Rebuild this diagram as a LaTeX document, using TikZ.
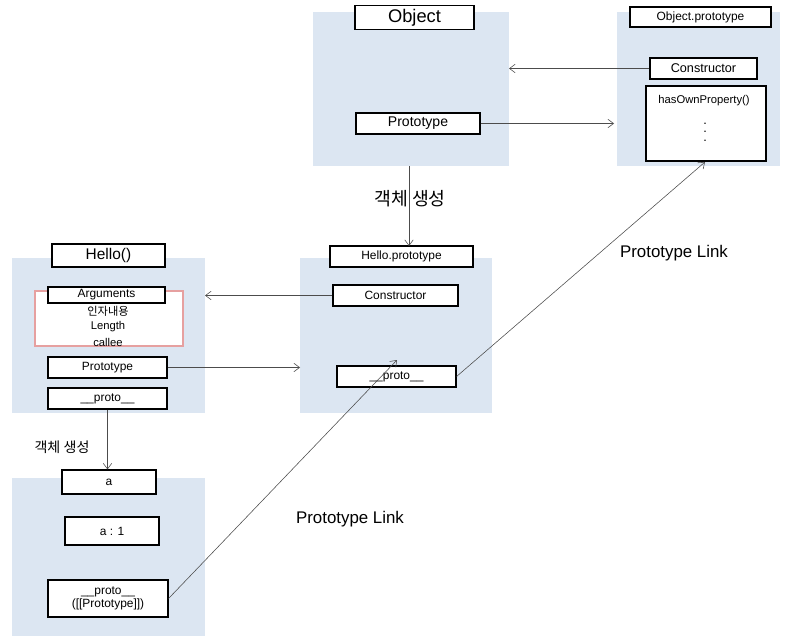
\documentclass[tikz,border=0pt]{standalone}
\usepackage{fontspec}
\setmainfont{Liberation Sans}
\newfontfamily\kr{Noto Sans CJK KR}
\usetikzlibrary{arrows.meta,positioning,calc}
\definecolor{panelblue}{HTML}{DCE6F2}
\definecolor{argred}{HTML}{E6A0A0}

\begin{document}
\begin{tikzpicture}[x=0.025cm,y=-0.025cm,
    panel/.style={fill=panelblue, draw=none},
    box/.style={draw, thick, fill=white, inner sep=0pt, font=\fontsize{8.5}{9}\selectfont},
    arrow/.style={-{Straight Barb[length=4pt,width=6pt]}, thin, black!70},
    lbl/.style={font=\fontsize{12}{13}\selectfont}
]
\useasboundingbox (0,0) rectangle (800,643);

% Panels
\fill[panel] (313,12) rectangle (509,166);
\fill[panel] (617,12) rectangle (780,166);
\fill[panel] (12,258) rectangle (205,413);
\fill[panel] (300,258) rectangle (492,413);
\fill[panel] (12,478) rectangle (205,636);

% Object
\node[box, line width=1.2pt, font=\fontsize{13}{14}\selectfont, minimum width=119*0.025cm, minimum height=24*0.025cm] (object) at (414.5,17.5) {Object};
\node[box, minimum width=124*0.025cm, minimum height=21*0.025cm, font=\fontsize{10}{11}\selectfont] (objproto) at (418,123.5) {Prototype};

% Object.prototype
\node[box, minimum width=141*0.025cm, minimum height=20*0.025cm] (optitle) at (700.5,17) {Object.prototype};
\node[box, minimum width=107*0.025cm, minimum height=21*0.025cm, font=\fontsize{9}{10}\selectfont] (opcons) at (703.5,68.5) {Constructor};
\node[box, line width=1.2pt, minimum width=120*0.025cm, minimum height=75*0.025cm] (hasown) at (706,123.5) {};
\node[font=\fontsize{8}{9}\selectfont] (hasname) at (704,101) {hasOwnProperty()};
\node[font=\fontsize{9}{9}\selectfont, align=center, inner sep=0pt] (hasdots) at (705,132) {.\\[-3pt].\\[-3pt].};

% Hello.prototype
\node[box, minimum width=143*0.025cm, minimum height=21*0.025cm] (hptitle) at (401.5,256.5) {Hello.prototype};
\node[box, minimum width=125*0.025cm, minimum height=21*0.025cm] (hpcons) at (395.5,295.5) {Constructor};
\node[box, minimum width=119*0.025cm, minimum height=21*0.025cm] (hpproto) at (396.5,376.5) {\_\_proto\_\_};

% Hello()
\draw[argred, thick, fill=white] (35,291) rectangle (183,346);
\node[box, minimum width=113*0.025cm, minimum height=23*0.025cm, font=\fontsize{11}{12}\selectfont] (hello) at (108.5,255.5) {Hello()};
\node[box, minimum width=117*0.025cm, minimum height=16*0.025cm] (args) at (106.5,295) {Arguments};
\node[font=\fontsize{8}{9}\selectfont\kr] (argtxt) at (108,311) {인자내용};
\node[font=\fontsize{8}{9}\selectfont] (argLen) at (108,327) {Length};
\node[font=\fontsize{8}{9}\selectfont] (argCal) at (108,342) {callee};
\node[box, minimum width=119*0.025cm, minimum height=21*0.025cm] (hproto) at (107.5,367.5) {Prototype};
\node[box, minimum width=119*0.025cm, minimum height=21*0.025cm] (hlink) at (107.5,398.5) {\_\_proto\_\_};

% a
\node[box, minimum width=94*0.025cm, minimum height=24*0.025cm] (a) at (109,482) {a};
\node[box, minimum width=94*0.025cm, minimum height=28*0.025cm] (aval) at (112,531) {a : 1};
\node[box, minimum width=120*0.025cm, minimum height=37*0.025cm, align=center] (alink) at (108,598.5) {\_\_proto\_\_\\([[Prototype]])};

% Labels
\node[font=\fontsize{13}{14}\selectfont\kr] (make1) at (410,199) {객체 생성};
\node[font=\fontsize{10}{11}\selectfont\kr] (make2) at (62,447) {객체 생성};
\node[lbl] (link1) at (674,253) {Prototype Link};
\node[lbl] (link2) at (350,519) {Prototype Link};

% Connectors
\draw[arrow] (opcons.west) -- (509,68.5);
\draw[arrow] (objproto.east) -- (614,123.5);
\draw[arrow] (409,166) -- (409,246);
\draw[arrow] (hpcons.west) -- (205,295.5);
\draw[arrow] (hproto.east) -- (300,367.5);
\draw[arrow] (hlink.south) -- (a.north -| hlink.south);
\draw[arrow] (alink.east) -- (397,360);
\draw[arrow] (hpproto.east) -- (705,162);
\end{tikzpicture}
\end{document}
